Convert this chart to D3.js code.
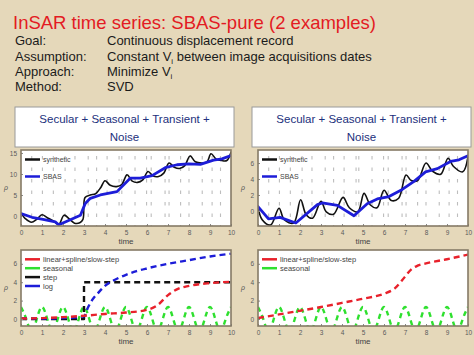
<!DOCTYPE html>
<html><head><meta charset="utf-8">
<script src="https://cdn.jsdelivr.net/npm/d3@7"></script>
<style>
html,body{margin:0;padding:0;background:#e5d8ba;}
svg{display:block;font-family:"Liberation Sans",Arial,Helvetica,sans-serif;}
</style>
</head><body>
<svg id="c" width="474" height="355"></svg>
<script>
// ---------------- data ----------------
const xTicks = [0,1,2,3,4,5,6,7,8,9,10];
const yTicksTopLeft = [0,5,10,15];
const yTicksTopRight = [0,2,4,6];
const yTicksBottom = [0,2,4,6];
const acqTimes = [0.51,1.02,1.54,2.1,2.57,3.2,3.6,4.1,4.67,4.8,5.43,5.98,6.2,6.86,7.05,7.6,8.0,8.63,9.1,9.5];

const synthLeft = [[0,0.6],[0.2,-0.6],[0.5,-1.5],[0.75,-0.8],[1.0,0.3],[1.25,-0.4],[1.55,-1.2],[1.8,-2.0],[2.05,0.2],[2.3,-0.7],[2.55,-1.7],[2.8,-1.6],[2.95,-0.8],[3.05,4.4],[3.3,5.0],[3.55,5.3],[3.8,6.8],[4.0,8.4],[4.25,7.3],[4.55,7.0],[4.8,7.5],[5.05,9.8],[5.3,8.3],[5.55,8.0],[5.8,8.6],[6.05,10.6],[6.3,9.5],[6.55,9.4],[6.8,10.2],[7.05,12.6],[7.3,11.6],[7.55,11.3],[7.8,12.0],[8.05,14.3],[8.3,12.9],[8.6,12.6],[8.85,12.8],[9.05,14.8],[9.3,13.5],[9.55,13.2],[9.8,13.2],[10,15.2]];
const sbasLeft = [[0,0.6],[0.52,-0.3],[1.05,-0.8],[1.63,-1.4],[1.8,-2.1],[2.35,-0.9],[2.83,0.2],[3.06,3.0],[3.3,4.2],[3.78,5.0],[4.57,5.8],[5.2,9.0],[5.68,9.0],[6.24,9.6],[6.87,11.5],[7.43,12.2],[7.98,12.4],[8.54,12.3],[9.17,13.3],[9.57,13.6],[10,14.4]];

const synthRight = [[0,0.55],[0.2,-1.1],[0.6,-1.75],[1.0,0.35],[1.25,-1.1],[1.7,-1.5],[2.03,1.4],[2.3,-0.5],[2.6,-0.9],[3.0,1.2],[3.25,-0.1],[3.6,-0.4],[4.05,1.7],[4.35,0.4],[4.75,-0.1],[5.05,2.2],[5.35,0.75],[5.67,0.4],[6.0,2.6],[6.35,1.3],[6.7,1.6],[7.05,4.5],[7.3,3.8],[7.6,3.8],[8.0,6.0],[8.3,5.0],[8.7,4.6],[9.05,6.6],[9.3,5.6],[9.75,4.9],[10,6.8]];
const sbasRight = [[0,0.55],[0.5,-1.0],[1.05,-0.8],[1.8,-1.5],[2.83,0.8],[3.06,1.0],[3.78,0.7],[4.57,-0.6],[5.2,0.9],[5.68,1.5],[6.24,1.8],[6.87,2.7],[7.43,3.7],[7.98,4.9],[8.54,5.3],[9.17,6.2],[9.57,6.4],[10,6.9]];

const linLeft = [[0,0.05],[1,0.1],[2,0.2],[3,0.35],[4,0.55],[5,0.7],[6,1.0],[6.5,1.5],[7,2.6],[7.5,3.3],[8,3.6],[9,3.9],[10,4.05]];
const stepLeft = [[0,0],[3,0],[3,4],[10,4]];
const logLeft = [[0,0.05],[1,0.05],[2,0.1],[3,0.3],[3.2,1.3],[3.4,2.1],[3.7,2.9],[4,3.6],[4.5,4.3],[5,4.8],[5.5,5.2],[6,5.5],[7,6.0],[8,6.4],[9,6.8],[10,7.1]];
const linRight = [[0,0.1],[1,0.5],[2,0.9],[3,1.3],[4,1.75],[5,2.2],[6,2.75],[6.5,3.3],[7,4.6],[7.3,5.4],[7.6,5.8],[8,6.05],[9,6.5],[10,7.0]];
// seasonal term, sampled every quarter year from t=0 to t=10
const seasonalStep = 0.25;
const seasonal = [1.3,0,-1.3,0, 1.3,0,-1.3,0, 1.3,0,-1.3,0, 1.3,0,-1.3,0, 1.3,0,-1.3,0,
                  1.3,0,-1.3,0, 1.3,0,-1.3,0, 1.3,0,-1.3,0, 1.3,0,-1.3,0, 1.3,0,-1.3,0, 1.3];

const headerLabels = ["Goal:","Assumption:","Approach:","Method:"];
const boxText = ["Secular + Seasonal + Transient +","Noise"];
const topLegend = ["synthetic","SBAS"];
const bottomLegendLeft = ["linear+spline/slow-step","seasonal","step","log"];
const bottomLegendRight = ["linear+spline/slow-step","seasonal"];

// ---------------- drawing ----------------
const svg = d3.select("#c");
const FONT = '"Liberation Sans",Arial,Helvetica,sans-serif';
const C = {red:"#e8212b", green:"#2fe02f", blue:"#1d1dd8", black:"#111"};

// title
svg.append("text").attr("x",13).attr("y",29).attr("font-size",18.5).attr("fill","#e31b23").text("InSAR time series: SBAS-pure (2 examples)");

const hy = [45,60.5,76,91];
headerLabels.forEach((t,i)=>svg.append("text").attr("x",15).attr("y",hy[i]).attr("font-size",13).attr("fill","#1b1b1b").text(t));
{
  svg.append("text").attr("x",107).attr("y",hy[0]).attr("font-size",13).attr("fill","#1b1b1b").text("Continuous displacement record");
  const t1 = svg.append("text").attr("x",107).attr("y",hy[1]).attr("font-size",13).attr("fill","#1b1b1b");
  t1.append("tspan").text("Constant V");
  t1.append("tspan").attr("font-size",8).attr("dy",3).text("i");
  t1.append("tspan").attr("dy",-3).text(" between image acquisitions dates");
  const t2 = svg.append("text").attr("x",107).attr("y",hy[2]).attr("font-size",13).attr("fill","#1b1b1b");
  t2.append("tspan").text("Minimize V");
  t2.append("tspan").attr("font-size",8).attr("dy",3).text("i");
  svg.append("text").attr("x",107).attr("y",hy[3]).attr("font-size",13).attr("fill","#1b1b1b").text("SVD");
}

// text boxes
[[15,234],[252,471]].forEach(([a,b])=>{
  svg.append("rect").attr("x",a).attr("y",107).attr("width",b-a).attr("height",40).attr("fill","#fff").attr("stroke","#9a9a9a").attr("stroke-width",1);
  boxText.forEach((t,i)=>svg.append("text").attr("x",(a+b)/2).attr("y",123+i*18.3).attr("text-anchor","middle")
     .attr("font-size",11.5).attr("fill","#22307c").text(t));
});

let clipId = 0;
function panel(cfg){
  const x = d3.scaleLinear().domain([0,10]).range([cfg.x0,cfg.x1]);
  const y = d3.scaleLinear().domain(cfg.ydom).range([cfg.y1,cfg.y0]);
  const g = svg.append("g");
  g.append("rect").attr("x",cfg.x0).attr("y",cfg.y0).attr("width",cfg.x1-cfg.x0).attr("height",cfg.y1-cfg.y0).attr("fill","#fff");
  const id = "clip"+(clipId++);
  g.append("clipPath").attr("id",id).append("rect").attr("x",cfg.x0).attr("y",cfg.y0).attr("width",cfg.x1-cfg.x0).attr("height",cfg.y1-cfg.y0);
  const inner = g.append("g").attr("clip-path",`url(#${id})`);
  if(cfg.grid){
    inner.selectAll("line.grid").data(acqTimes).join("line").attr("class","grid")
      .attr("x1",d=>x(d)).attr("x2",d=>x(d)).attr("y1",cfg.y0+6).attr("y2",cfg.y1)
      .attr("stroke","#bdbdbd").attr("stroke-width",1.1).attr("stroke-dasharray","3.5,8");
  }
  const xa = d3.axisBottom(x).tickValues(xTicks).tickSize(-2).tickPadding(4).tickFormat(d3.format("d"));
  const ya = d3.axisLeft(y).tickValues(cfg.yticks).tickSize(-2).tickPadding(4).tickFormat(d3.format("d"));
  const gx = g.append("g").attr("transform",`translate(0,${cfg.y1})`).call(xa);
  const gy = g.append("g").attr("transform",`translate(${cfg.x0},0)`).call(ya);
  [gx,gy].forEach(a=>{
    a.select(".domain").remove();
    a.selectAll("line").attr("stroke","#888");
    a.selectAll("text").attr("font-size",6.5).attr("fill","#5a5a5a").attr("font-family",FONT);
  });
  g.append("text").attr("x",(cfg.x0+cfg.x1)/2).attr("y",cfg.y1+18).attr("text-anchor","middle").attr("font-size",8).attr("fill","#444").text("time");
  g.append("text").attr("x",cfg.x0-15).attr("y",(cfg.y0+cfg.y1)/2+2).attr("text-anchor","middle").attr("font-size",7).attr("fill","#555").attr("font-style","italic").text("ρ");
  cfg.x = x; cfg.y = y; cfg.inner = inner; cfg.g = g;
  return cfg;
}
function frame(cfg){
  cfg.g.append("rect").attr("x",cfg.x0).attr("y",cfg.y0).attr("width",cfg.x1-cfg.x0).attr("height",cfg.y1-cfg.y0)
    .attr("fill","none").attr("stroke","#857a66").attr("stroke-width",1.6);
}
function line(cfg,data,color,w,dash,curve){
  const gen = d3.line().x(d=>cfg.x(d[0])).y(d=>cfg.y(d[1])).curve(curve||d3.curveLinear);
  const p = cfg.inner.append("path").datum(data).attr("d",gen).attr("fill","none").attr("stroke",color)
    .attr("stroke-width",w).attr("stroke-linejoin","round").attr("stroke-linecap",dash?"butt":"round");
  if(dash) p.attr("stroke-dasharray",dash);
  return p;
}
function legend(cfg,items,colors,y0,dy,w,fs){
  items.forEach((t,i)=>{
    cfg.g.append("line").attr("x1",cfg.x0+4).attr("x2",cfg.x0+19).attr("y1",y0+i*dy).attr("y2",y0+i*dy)
      .attr("stroke",colors[i]).attr("stroke-width",w);
    cfg.g.append("text").attr("x",cfg.x0+22).attr("y",y0+i*dy+fs*0.35).attr("font-size",fs).attr("fill","#444").text(t);
  });
}

const seasonalPts = seasonal.map((v,i)=>[i*seasonalStep,v]);

// top-left
const tl = panel({x0:21,x1:231,y0:150,y1:226,ydom:[-2.38,15.71],yticks:yTicksTopLeft,grid:true});
line(tl,synthLeft,C.black,1.6,null,d3.curveCatmullRom.alpha(0.5));
line(tl,sbasLeft,C.blue,2.8,null);
legend(tl,topLegend,[C.black,C.blue],159.5,17,2.5,7);
frame(tl);

// top-right
const tr = panel({x0:258,x1:468,y0:150,y1:226,ydom:[-1.88,7.63],yticks:yTicksTopRight,grid:true});
line(tr,synthRight,C.black,1.6,null,d3.curveCatmullRom.alpha(0.5));
line(tr,sbasRight,C.blue,2.8,null);
legend(tr,topLegend,[C.black,C.blue],159.5,17,2.5,7);
frame(tr);

// bottom-left
const bl = panel({x0:21,x1:231,y0:250,y1:326,ydom:[-0.76,7.5],yticks:yTicksBottom,grid:false});
line(bl,seasonalPts,C.green,2.4,"5,4",d3.curveNatural);
line(bl,stepLeft,C.black,2.4,"6,4");
line(bl,logLeft,C.blue,2.4,"6,4",d3.curveMonotoneX);
line(bl,linLeft,C.red,2.4,"6,4",d3.curveMonotoneX);
legend(bl,bottomLegendLeft,[C.red,C.green,C.black,C.blue],259.3,8.9,2.5,7.5);
frame(bl);

// bottom-right
const br = panel({x0:258,x1:468,y0:250,y1:326,ydom:[-0.76,7.5],yticks:yTicksBottom,grid:false});
line(br,seasonalPts,C.green,2.4,"5,4",d3.curveNatural);
line(br,linRight,C.red,2.4,"6,4",d3.curveMonotoneX);
legend(br,bottomLegendRight,[C.red,C.green],259.3,8.9,2.5,7.5);
frame(br);
</script>
</body></html>
